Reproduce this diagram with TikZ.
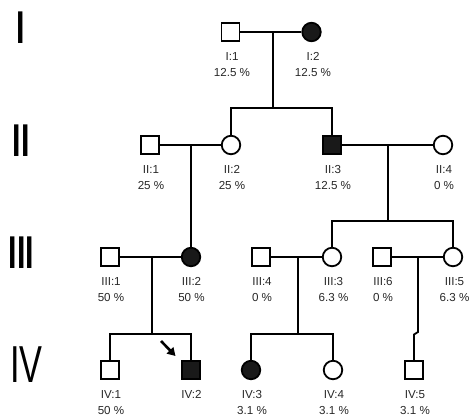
\documentclass[tikz,border=0pt]{standalone}
\usepackage{fontspec}
\setmainfont{Liberation Sans}
\usetikzlibrary{arrows.meta}

\begin{document}
\begin{tikzpicture}[
    x=1bp, y=-1bp,
    male/.style={draw, rectangle, minimum size=18bp, inner sep=0pt,
                 line width=1.8bp, fill=white},
    female/.style={draw, circle, minimum size=18.5bp, inner sep=0pt,
                   line width=1.8bp, fill=white},
    aff/.style={fill=black!90},
    idlabel/.style={anchor=north, align=center, inner sep=0pt,
                    font=\fontsize{11.6bp}{16bp}\selectfont, text=black!85},
    gen/.style={anchor=base, inner sep=0pt},
    link/.style={draw=black, line width=1.8bp}
  ]
    \def\ya{32} \def\yb{145} \def\yc{257} \def\yd{370}

    \useasboundingbox (0,0) rectangle (474,418);

    % generation numbers
    \node[gen, font=\fontsize{46bp}{46bp}\selectfont\bfseries] (gI)   at (21,43)  {\scalebox{0.66}[1]{I}};
    \node[gen, font=\fontsize{46bp}{46bp}\selectfont\bfseries] (gII)  at (21,156) {\scalebox{0.66}[1]{II}};
    \node[gen, font=\fontsize{46bp}{46bp}\selectfont\bfseries] (gIII) at (21.5,268) {\scalebox{0.66}[1]{III}};
    \node[gen, font=\fontsize{52bp}{52bp}\selectfont]          (gIV)  at (26.5,382) {\scalebox{0.66}[1]{IV}};

    % individuals
    \node[male]        (I1)   at (230.5,\ya) {};
    \node[female, aff] (I2)   at (311.5,\ya) {};

    \node[male]        (II1)  at (150,\yb)   {};
    \node[female]      (II2)  at (231,\yb)   {};
    \node[male, aff]   (II3)  at (332,\yb)   {};
    \node[female]      (II4)  at (443,\yb)   {};

    \node[male]        (III1) at (110,\yc)   {};
    \node[female, aff] (III2) at (191,\yc)   {};
    \node[male]        (III4) at (261,\yc)   {};
    \node[female]      (III3) at (332,\yc)   {};
    \node[male]        (III6) at (382,\yc)   {};
    \node[female]      (III5) at (453,\yc)   {};

    \node[male]        (IV1)  at (110,\yd)   {};
    \node[male, aff]   (IV2)  at (191,\yd)   {};
    \node[female, aff] (IV3)  at (251,\yd)   {};
    \node[female]      (IV4)  at (333,\yd)   {};
    \node[male]        (IV5)  at (414,\yd)   {};

    % labels
    \node[idlabel] (lI1)   at (232,\ya+20)   {I:1\\12.5 \%};
    \node[idlabel] (lI2)   at (313,\ya+20)   {I:2\\12.5 \%};
    \node[idlabel] (lII1)  at (151,\yb+20)   {II:1\\25 \%};
    \node[idlabel] (lII2)  at (232,\yb+20)   {II:2\\25 \%};
    \node[idlabel] (lII3)  at (333,\yb+20)   {II:3\\12.5 \%};
    \node[idlabel] (lII4)  at (444,\yb+20)   {II:4\\0 \%};
    \node[idlabel] (lIII1) at (111,\yc+20)   {III:1\\50 \%};
    \node[idlabel] (lIII2) at (191.5,\yc+20) {III:2\\50 \%};
    \node[idlabel] (lIII4) at (262,\yc+20)   {III:4\\0 \%};
    \node[idlabel] (lIII3) at (333.5,\yc+20) {III:3\\6.3 \%};
    \node[idlabel] (lIII6) at (383,\yc+20)   {III:6\\0 \%};
    \node[idlabel] (lIII5) at (454.5,\yc+20) {III:5\\6.3 \%};
    \node[idlabel] (lIV1)  at (111,\yd+20)   {IV:1\\50 \%};
    \node[idlabel] (lIV2)  at (191.5,\yd+20) {IV:2};
    \node[idlabel] (lIV3)  at (252,\yd+20)   {IV:3\\3.1 \%};
    \node[idlabel] (lIV4)  at (334,\yd+20)   {IV:4\\3.1 \%};
    \node[idlabel] (lIV5)  at (415,\yd+20)   {IV:5\\3.1 \%};

    % matings and lines of descent
    \coordinate (mI)    at (273,\ya);
    \coordinate (sI)    at (273,108);
    \coordinate (mII1)  at (191,\yb);
    \coordinate (mII2)  at (388,\yb);
    \coordinate (sII)   at (388,221);
    \coordinate (mIII1) at (152,\yc);
    \coordinate (sIII1) at (152,334);
    \coordinate (mIII2) at (298,\yc);
    \coordinate (sIII2) at (298,334);
    \coordinate (mIII3) at (418,\yc);
    \coordinate (jIII3) at (418,332);
    \coordinate (kIII3) at (414,334.5);

    \draw[link] (I1) -- (I2);
    \draw[link] (mI) -- (sI);
    \draw[link] (II2) |- (sI) -| (II3);

    \draw[link] (II1) -- (II2);
    \draw[link] (mII1) -- (III2);
    \draw[link] (II3) -- (II4);
    \draw[link] (mII2) -- (sII);
    \draw[link] (III3) |- (sII) -| (III5);

    \draw[link] (III1) -- (III2);
    \draw[link] (mIII1) -- (sIII1);
    \draw[link] (IV1) |- (sIII1) -| (IV2);
    \draw[link] (III4) -- (III3);
    \draw[link] (mIII2) -- (sIII2);
    \draw[link] (IV3) |- (sIII2) -| (IV4);
    \draw[link] (III6) -- (III5);
    \draw[link] (mIII3) -- (jIII3) -- (kIII3) -- (IV5);

    % proband
    \coordinate (pa) at (161,341);
    \coordinate (pb) at (175.5,356);
    \draw[-{Triangle[length=8bp,width=9bp]}, line width=2.6bp] (pa) -- (pb);
\end{tikzpicture}
\end{document}
